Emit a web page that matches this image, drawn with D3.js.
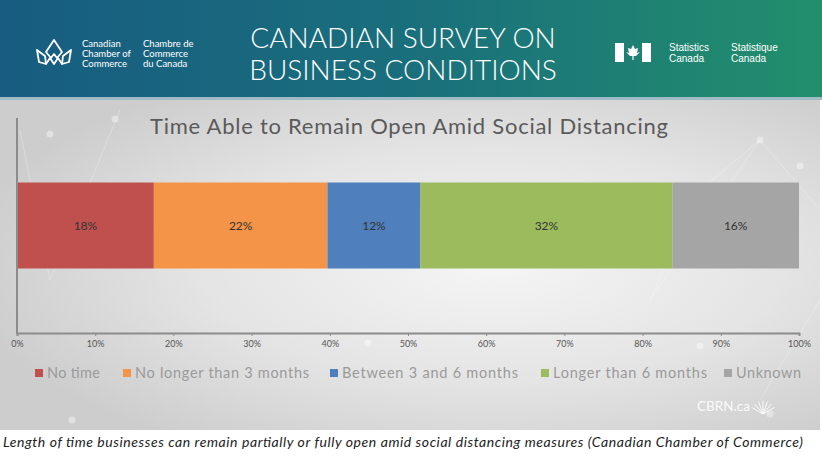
<!DOCTYPE html>
<html>
<head>
<meta charset="utf-8">
<script src="https://cdn.jsdelivr.net/npm/d3@7"></script>
<style>
html,body{margin:0;padding:0;background:#fff;}
svg{display:block;}
</style>
</head>
<body>
<svg id="chart" width="822" height="463"></svg>
<script>
// ---- data ----
const categories = ["No time", "No longer than 3 months", "Between 3 and 6 months", "Longer than 6 months", "Unknown"];
const values = [17.5, 22.2, 11.9, 32.2, 16.2];
const valueLabels = ["18%", "22%", "12%", "32%", "16%"];
const colors = ["#c0504d", "#f39448", "#4f7fbc", "#9bbb5c", "#a5a5a5"];
const tickValues = [0, 10, 20, 30, 40, 50, 60, 70, 80, 90, 100];
const tickLabels = ["0%", "10%", "20%", "30%", "40%", "50%", "60%", "70%", "80%", "90%", "100%"];
const legendX = [35, 123, 330, 541, 724];
const legendW = [53, 174, 176, 154, 65];

const svg = d3.select("#chart");
const defs = svg.append("defs");
const FONT = "Lato, 'Open Sans', sans-serif";

// header gradient
const hg = defs.append("linearGradient").attr("id", "hg").attr("x1", "0").attr("x2", "1").attr("y1", "0").attr("y2", "0");
hg.append("stop").attr("offset", "0").attr("stop-color", "#175c81");
hg.append("stop").attr("offset", "0.5").attr("stop-color", "#1a6f7c");
hg.append("stop").attr("offset", "1").attr("stop-color", "#228f6c");

// chart background gradient
const bg = defs.append("radialGradient").attr("id", "bg").attr("cx", "0.6").attr("cy", "0.5").attr("r", "0.65");
bg.append("stop").attr("offset", "0").attr("stop-color", "#f5f5f5");
bg.append("stop").attr("offset", "0.55").attr("stop-color", "#e4e4e4");
bg.append("stop").attr("offset", "1").attr("stop-color", "#cdcdcd");

// header
svg.append("rect").attr("x", 0).attr("y", 0).attr("width", 822).attr("height", 97).attr("fill", "url(#hg)");
svg.append("rect").attr("x", 0).attr("y", 97).attr("width", 822).attr("height", 3).attr("fill", "#9fbcc6");

// header title
const ht = svg.append("text").attr("text-anchor", "middle").attr("fill", "#fff")
  .attr("font-family", FONT).attr("font-weight", 300).attr("font-size", 28);
ht.append("tspan").attr("x", 403).attr("y", 48).text("CANADIAN SURVEY ON");
ht.append("tspan").attr("x", 403).attr("y", 80).text("BUSINESS CONDITIONS");

// Chamber logo (simple stylised leaf)
const logo = svg.append("g").attr("stroke", "#fff").attr("stroke-width", 1.8).attr("fill", "none").attr("stroke-linejoin", "round");
logo.append("path").attr("d", "M54,40 L46,52 L51,58 L54,54 L57,58 L62,52 Z");
logo.append("path").attr("d", "M37,50 L45,56 L46,64 L39,62 Z");
logo.append("path").attr("d", "M71,50 L63,56 L62,64 L69,62 Z");
logo.append("path").attr("d", "M46,64 L50,58 L54,64 L58,58 L62,64");
const lt = svg.append("g").attr("fill", "#fff").attr("font-family", FONT).attr("font-size", 9.5);
[["Canadian", 82, 47], ["Chamber of", 82, 57], ["Commerce", 82, 67], ["Chambre de", 143, 47], ["Commerce", 143, 57], ["du Canada", 143, 67]]
  .forEach(d => lt.append("text").attr("x", d[1]).attr("y", d[2]).text(d[0]));

// Statistics Canada logo
svg.append("rect").attr("x", 615).attr("y", 43).attr("width", 9).attr("height", 19).attr("fill", "#fff");
svg.append("rect").attr("x", 642).attr("y", 43).attr("width", 9).attr("height", 19).attr("fill", "#fff");
svg.append("path").attr("d", "M633,45 L635,49 L638,48 L637,53 L640,52 L636,56 L633.6,56 L633.6,60 L632.4,60 L632.4,56 L630,56 L626,52 L629,53 L628,48 L631,49 Z").attr("fill", "#fff");
const st = svg.append("g").attr("fill", "#fff").attr("font-family", "'Liberation Sans', Arial, sans-serif").attr("font-size", 10);
[["Statistics", 669, 51], ["Canada", 669, 62], ["Statistique", 731, 51], ["Canada", 731, 62]]
  .forEach(d => st.append("text").attr("x", d[1]).attr("y", d[2]).text(d[0]));

// chart background
svg.append("rect").attr("x", 0).attr("y", 100).attr("width", 820).attr("height", 330).attr("fill", "url(#bg)");

// faint decorative network
const net = svg.append("g").attr("stroke", "#ffffff").attr("stroke-opacity", 0.35).attr("stroke-width", 0.8);
[[20,130,50,280],[50,280,120,110],[700,190,760,140],[760,140,820,210],[700,190,650,300],[650,300,760,140],[820,300,760,400]]
  .forEach(l => net.append("line").attr("x1", l[0]).attr("y1", l[1]).attr("x2", l[2]).attr("y2", l[3]));
const dots = svg.append("g").attr("fill", "#ffffff").attr("fill-opacity", 0.4);
[[50,134],[20,188],[115,119],[700,190],[760,140],[800,166],[72,420],[368,343],[700,346],[770,414]]
  .forEach(p => dots.append("circle").attr("cx", p[0]).attr("cy", p[1]).attr("r", 3.5));

// chart title
svg.append("text").attr("x", 150).attr("y", 134).attr("fill", "#5a5a5a")
  .attr("font-family", FONT).attr("font-size", 22).attr("textLength", 518).attr("lengthAdjust", "spacing")
  .text("Time Able to Remain Open Amid Social Distancing");

// scales
const x = d3.scaleLinear().domain([0, 100]).range([17, 799]);
const y = d3.scaleBand().domain(["All"]).range([118, 333]).paddingInner(0.6).paddingOuter(0.3);

// stacked data
const stacked = [];
let acc = 0;
values.forEach((v, i) => { stacked.push({ cat: categories[i], x0: acc, x1: acc + v, label: valueLabels[i], color: colors[i] }); acc += v; });

const bars = svg.append("g");
bars.selectAll("rect").data(stacked).join("rect")
  .attr("x", d => x(d.x0)).attr("y", y("All"))
  .attr("width", d => x(d.x1) - x(d.x0)).attr("height", y.bandwidth())
  .attr("fill", d => d.color);
bars.selectAll("text").data(stacked).join("text")
  .attr("x", d => x((d.x0 + d.x1) / 2)).attr("y", y("All") + y.bandwidth() / 2 + 4)
  .attr("text-anchor", "middle").attr("fill", "#333")
  .attr("font-family", FONT).attr("font-size", 12)
  .text(d => d.label);

// x axis
const xAxis = svg.append("g").attr("transform", "translate(0,333)")
  .call(d3.axisBottom(x).tickValues(tickValues).tickFormat((d, i) => tickLabels[i]).tickSizeOuter(0).tickSize(3));
xAxis.select(".domain").attr("stroke", "#8c8c8c").attr("stroke-width", 2);
xAxis.selectAll(".tick line").attr("stroke", "#8c8c8c");
xAxis.selectAll(".tick text").attr("fill", "#555").attr("font-family", FONT).attr("font-size", 9).attr("dy", "0.9em");

// y axis line
svg.append("line").attr("x1", 17).attr("x2", 17).attr("y1", 118).attr("y2", 334).attr("stroke", "#8c8c8c").attr("stroke-width", 2);

// legend
const lg = svg.append("g");
categories.forEach((c, i) => {
  lg.append("rect").attr("x", legendX[i]).attr("y", 369).attr("width", 8).attr("height", 8).attr("fill", colors[i]);
  lg.append("text").attr("x", legendX[i] + 12).attr("y", 378).attr("fill", "#9a9a9a")
    .attr("font-family", FONT).attr("font-size", 14.5)
    .attr("textLength", legendW[i]).attr("lengthAdjust", "spacing").text(c);
});

// watermark
svg.append("text").attr("x", 697).attr("y", 411).attr("fill", "#ffffff").attr("fill-opacity", 0.9)
  .attr("font-family", FONT).attr("font-size", 13.5).text("CBRN.ca");
const leaf = svg.append("g").attr("stroke", "#fff").attr("stroke-opacity", 0.85).attr("stroke-width", 1);
[-60, -40, -20, 0, 20, 40, 60].forEach(a => {
  const r = a * Math.PI / 180;
  leaf.append("line").attr("x1", 763).attr("y1", 414).attr("x2", 763 + 13 * Math.sin(r)).attr("y2", 414 - 13 * Math.cos(r));
});

// caption
svg.append("text").attr("x", 3).attr("y", 447).attr("fill", "#222")
  .attr("font-family", FONT).attr("font-style", "italic").attr("font-size", 14)
  .attr("textLength", 800).attr("lengthAdjust", "spacing")
  .text("Length of time businesses can remain partially or fully open amid social distancing measures (Canadian Chamber of Commerce)");
</script>
</body>
</html>
